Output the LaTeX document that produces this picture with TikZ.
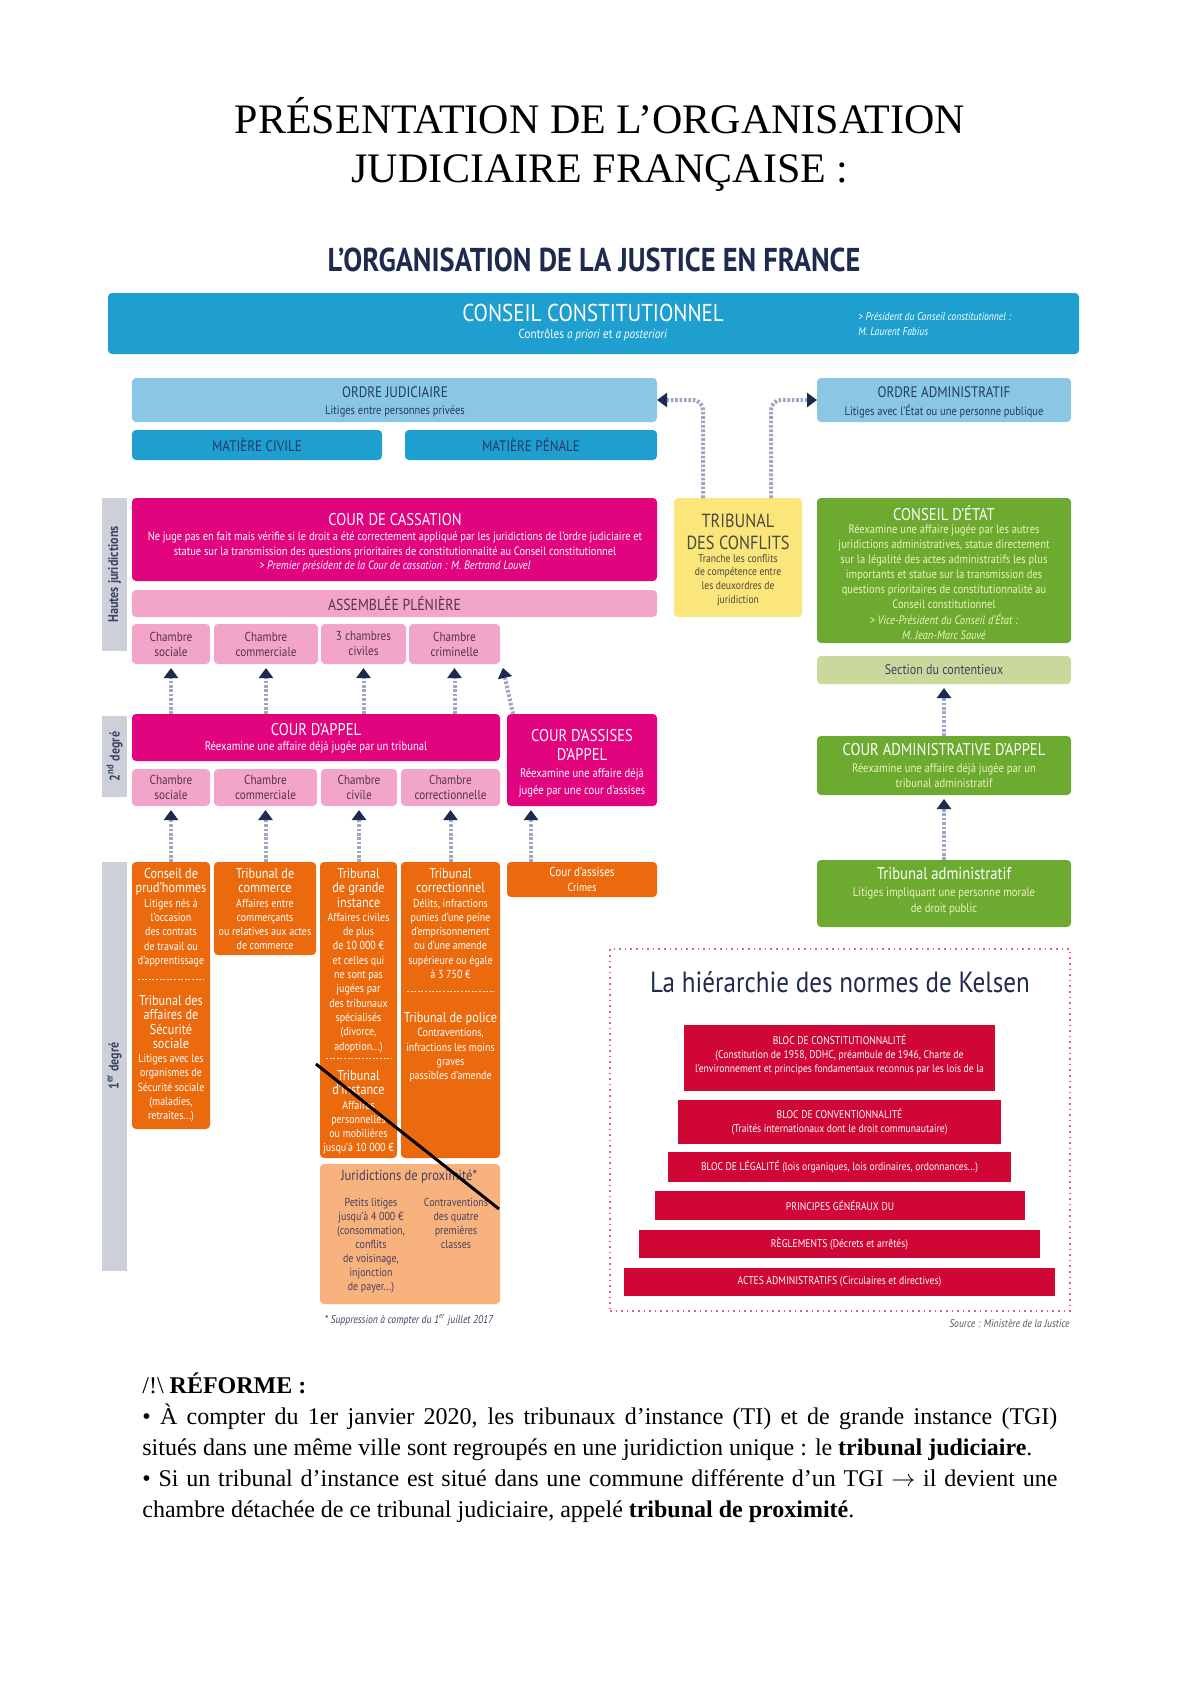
\documentclass[tikz,border=0pt]{standalone}
\usepackage{fontspec}
\setmainfont{Liberation Serif}
\newfontfamily\cf[FakeStretch=0.86]{PT Sans}
\usetikzlibrary{arrows.meta,fit,calc}
\definecolor{ccblue}{HTML}{1E9FCF}
\definecolor{lblue}{HTML}{89C7E4}
\definecolor{navy}{HTML}{1F2A4F}
\definecolor{navyt}{HTML}{243A68}
\definecolor{mag}{HTML}{E2047F}
\definecolor{pinkc}{HTML}{F2A5C8}
\definecolor{pinkt}{HTML}{5A2E4E}
\definecolor{orng}{HTML}{EC6A0E}
\definecolor{lorng}{HTML}{F7B27D}
\definecolor{lorngt}{HTML}{47405E}
\definecolor{yel}{HTML}{FBE67C}
\definecolor{yelt}{HTML}{4A4A3C}
\definecolor{grn}{HTML}{6DAA30}
\definecolor{pgrn}{HTML}{C9D99C}
\definecolor{paleg}{HTML}{EEF2C0}
\definecolor{crim}{HTML}{CF0636}
\definecolor{grayb}{HTML}{CDCFD9}
\definecolor{sidet}{HTML}{3B4466}
\definecolor{arrc}{HTML}{A3A4C4}
\definecolor{kred}{HTML}{E0607E}
\newcommand\otitle{\cf\fontsize{7.1}{7.15}\selectfont}
\newcommand\obody{\cf\fontsize{5.8}{7.15}\selectfont}
\newcommand\boxn[7]{%
  \pgfmathsetmacro\myBw{(#5-#3)*0.5}\pgfmathsetmacro\myBh{(#6-#4)*0.5}%
  \node[#2, minimum width=\myBw pt, minimum height=\myBh pt] (#1) at ({(#3+#5)/2},{(#4+#6)/2}) {#7};}
\begin{document}
\begin{tikzpicture}[x=0.5pt,y=-0.5pt,
  bx/.style={rectangle, rounded corners=2pt, inner sep=0pt, outer sep=0pt},
  sq/.style={rectangle, inner sep=0pt, outer sep=0pt},
  ttl/.style={font=\cf\fontsize{8.5}{9.5}\selectfont, text=white, inner sep=0pt},
  bdy/.style={font=\cf\fontsize{5.8}{7.25}\selectfont, text=white, align=center, inner sep=0pt},
  chb/.style={bx, fill=pinkc, text=pinkt, align=center, font=\cf\fontsize{6.5}{7.5}\selectfont},
  obx/.style={bx, fill=orng},
  otx/.style={font=\obody, text=white, align=center, inner sep=0pt, anchor=north},
  gbx/.style={bx, fill=grn},
  side/.style={sq, fill=grayb},
  sidetx/.style={rotate=90, text=sidet, font=\cf\bfseries\fontsize{7}{8}\selectfont, inner sep=0pt},
  lay/.style={sq, fill=crim, text=white, align=center, font=\cf\fontsize{5.6}{7}\selectfont},
  arr/.style={draw=arrc, line width=2pt, dash pattern=on 1.3pt off 0.9pt, -{Triangle[width=7pt,length=5pt,color=navy]}},
  sepl/.style={draw=white!80!orng, line width=0.5pt, dash pattern=on 1pt off 0.8pt}
]
\useasboundingbox[fill=white] (0,0) rectangle (1200,1696);

% titles
\node[font=\fontsize{21}{26}\selectfont] (title1) at (600,116) {PRÉSENTATION DE L’ORGANISATION};
\node[font=\fontsize{21}{26}\selectfont] (title2) at (600,173) {JUDICIAIRE FRANÇAISE :};
\node[font=\cf\bfseries\fontsize{16.5}{18}\selectfont, text=navy] (sub) at (594,260) {L’ORGANISATION DE LA JUSTICE EN FRANCE};

% Conseil constitutionnel
\node[bx, fill=ccblue, fit={(108,293)(1079,354)}] (cc) {};
\node[font=\cf\fontsize{12.2}{14}\selectfont, text=white, inner sep=0pt] (ccT) at (593,313) {CONSEIL CONSTITUTIONNEL};
\node[font=\cf\fontsize{6.5}{8}\selectfont, text=white, inner sep=0pt] (ccS) at (593,335) {Contrôles \textit{a priori} et \textit{a posteriori}};
\node[font=\cf\itshape\fontsize{5.6}{7.2}\selectfont, text=white, align=left, anchor=west, inner sep=0pt] (ccP) at (858,324) {> Président du Conseil constitutionnel :\\M. Laurent Fabius};

% ordres
\node[bx, fill=lblue, fit={(132,378)(657,422)}] (oj) {};
\node[font=\cf\fontsize{7.6}{9}\selectfont, text=navyt, inner sep=0pt] (ojT) at (395,392) {ORDRE JUDICIAIRE};
\node[font=\cf\fontsize{6.1}{8}\selectfont, text=navyt, inner sep=0pt] (ojS) at (395,411) {Litiges entre personnes privées};
\boxn{mc}{bx, fill=ccblue, text=navyt, font=\cf\fontsize{7.6}{9}\selectfont}{132}{430}{382}{460}{MATIÈRE CIVILE}
\boxn{mp}{bx, fill=ccblue, text=navyt, font=\cf\fontsize{7.6}{9}\selectfont}{405}{430}{657}{460}{MATIÈRE PÉNALE}
\node[bx, fill=lblue, fit={(817,378)(1071,422)}] (oa) {};
\node[font=\cf\fontsize{7.6}{9}\selectfont, text=navyt, inner sep=0pt] (oaT) at (944,392) {ORDRE ADMINISTRATIF};
\node[font=\cf\fontsize{6.1}{8}\selectfont, text=navyt, inner sep=0pt] (oaS) at (944,411) {Litiges avec l’État ou une personne publique};

% side bars
\node[side, fit={(102,498)(127,651)}] (hj) {};
\node[sidetx] (hjT) at (hj.center) {Hautes juridictions};
\node[side, fit={(102,716)(127,797)}] (d2) {};
\node[sidetx] (d2T) at (d2.center) {2\textsuperscript{nd} degré};
\node[side, fit={(102,862)(127,1271)}] (d1) {};
\node[sidetx] (d1T) at (114.5,1066) {1\textsuperscript{er} degré};

% Cour de cassation
\node[bx, fill=mag, fit={(132,498)(657,581)}] (cass) {};
\node[ttl] (cassT) at (395,520) {COUR DE CASSATION};
\node[bdy, font=\cf\fontsize{6.05}{7.25}\selectfont] (cassB) at (395,552) {Ne juge pas en fait mais vérifie si le droit a été correctement appliqué par les juridictions de l’ordre judiciaire et\\statue sur la transmission des questions prioritaires de constitutionnalité au Conseil constitutionnel\\\textit{> Premier président de la Cour de cassation : M. Bertrand Louvel}};
\boxn{ap}{bx, fill=pinkc, text=pinkt, font=\cf\fontsize{8}{9}\selectfont}{132}{590}{657}{617}{ASSEMBLÉE PLÉNIÈRE}
\boxn{cs1}{chb}{132}{624}{210}{664}{Chambre\\sociale}
\boxn{cs2}{chb}{214}{624}{318}{664}{Chambre\\commerciale}
\boxn{cs3}{chb}{321}{624}{406}{664}{3 chambres\\civiles}
\boxn{cs4}{chb}{409}{624}{500}{664}{Chambre\\criminelle}

% Cour d'appel
\node[bx, fill=mag, fit={(132,714)(500,761)}] (ca) {};
\node[ttl] (caT) at (316,730) {COUR D’APPEL};
\node[bdy, font=\cf\fontsize{6.2}{7.5}\selectfont] (caB) at (316,747) {Réexamine une affaire déjà jugée par un tribunal};
\boxn{ca1}{chb}{132}{769}{210}{806}{Chambre\\sociale}
\boxn{ca2}{chb}{214}{769}{317}{806}{Chambre\\commerciale}
\boxn{ca3}{chb}{321}{769}{397}{806}{Chambre\\civile}
\boxn{ca4}{chb}{401}{769}{500}{806}{Chambre\\correctionnelle}
\node[bx, fill=mag, fit={(507,714)(657,806)}] (cda) {};
\node[ttl, align=center] (cdaT) at (582,745) {COUR D’ASSISES\\D’APPEL};
\node[bdy, font=\cf\fontsize{6.2}{8.5}\selectfont] (cdaB) at (582,783) {Réexamine une affaire déjà\\jugée par une cour d’assises};

% first degree
\node[obx, fit={(132,862)(210,1129)}] (o1) {};
\node[obx, fit={(214,862)(316,955)}] (o2) {};
\node[obx, fit={(320,862)(397,1158)}] (o3) {};
\node[obx, fit={(401,862)(500,1158)}] (o4) {};
\node[obx, fit={(507,862)(657,897)}] (assises) {};
\node[otx, font=\cf\fontsize{6.5}{7.3}\selectfont] (assT) at (582,867) {\relax Cour d’assises\\\obody Crimes};
\node[otx] (o1a) at (171,868) {\relax\otitle Conseil de\\\otitle prud’hommes\\\obody Litiges nés à\\l’occasion\\des contrats\\de travail ou\\d’apprentissage};
\draw[sepl] (138,979) -- (204,979);
\node[otx] (o1b) at (171,995) {\relax\otitle Tribunal des\\\otitle affaires de\\\otitle Sécurité\\\otitle sociale\\\obody Litiges avec les\\organismes de\\Sécurité sociale\\(maladies,\\retraites...)};
\node[otx] (o2a) at (265,868) {\relax\otitle Tribunal de\\\otitle commerce\\\obody Affaires entre\\commerçants\\ou relatives aux actes\\de commerce};
\node[otx] (o3a) at (358.5,868) {\relax\otitle Tribunal\\\otitle de grande\\\otitle instance\\\obody Affaires civiles\\de plus\\de 10 000 €\\et celles qui\\ne sont pas\\jugées par\\des tribunaux\\spécialisés\\(divorce,\\adoption...)};
\draw[sepl] (326,1058) -- (391,1058);
\node[otx] (o3b) at (358.5,1070) {\relax\otitle Tribunal\\\otitle d’instance\\\obody Affaires\\personnelles\\ou mobilières\\jusqu’à 10 000 €};
\node[otx] (o4a) at (450.5,868) {\relax\otitle Tribunal\\\otitle correctionnel\\\obody Délits, infractions\\punies d’une peine\\d’emprisonnement\\ou d’une amende\\supérieure ou égale\\à 3 750 €};
\draw[sepl] (407,991) -- (494,991);
\node[otx] (o4b) at (450.5,1012) {\relax\otitle Tribunal de police\\\obody Contraventions,\\infractions les moins\\graves\\passibles d’amende};

% juridictions de proximite
\node[bx, fill=lorng, fit={(320,1164)(500,1304)}] (jp) {};
\node[font=\cf\fontsize{7.3}{8}\selectfont, text=lorngt, inner sep=0pt] (jpT) at (409,1177) {Juridictions de proximité*};
\node[otx, text=lorngt, font=\cf\fontsize{5.8}{7}\selectfont] (jpL) at (371,1198) {Petits litiges\\jusqu’à 4 000 €\\(consommation,\\conflits\\de voisinage,\\injonction\\de payer...)};
\node[otx, text=lorngt, font=\cf\fontsize{5.8}{7}\selectfont] (jpR) at (456,1198) {Contraventions\\des quatre\\premières\\classes};
\node[font=\cf\itshape\fontsize{5.6}{7}\selectfont, text=lorngt, inner sep=0pt] (foot) at (409,1320) {* Suppression à compter du 1\textsuperscript{er} juillet 2017};

% strike line
\coordinate (s1) at (316,1064);
\coordinate (s2) at (499,1209);
\draw[line width=1.5pt, black] (s1) -- (s2);

% Tribunal des conflits
\node[bx, fill=yel, fit={(674,498)(802,617)}] (tc) {};
\node[font=\cf\fontsize{9.5}{11}\selectfont, text=yelt, align=center, inner sep=0pt] (tcT) at (738,532) {TRIBUNAL\\DES CONFLITS};
\node[font=\cf\fontsize{5.6}{6.85}\selectfont, text=yelt, align=center, inner sep=0pt] (tcB) at (738,580) {Tranche les conflits\\de compétence entre\\les deuxordres de\\juridiction};

% administratif
\node[gbx, fit={(817,498)(1071,643)}] (ce) {};
\node[ttl] (ceT) at (944,513) {CONSEIL D’ÉTAT};
\node[bdy, text=paleg, font=\cf\fontsize{6.1}{7.55}\selectfont] (ceB) at (944,582) {Réexamine une affaire jugée par les autres\\juridictions administratives, statue directement\\sur la légalité des actes administratifs les plus\\importants et statue sur la transmission des\\questions prioritaires de constitutionnalité au\\Conseil constitutionnel\\\textit{> Vice-Président du Conseil d’État :}\\\textit{M. Jean-Marc Sauvé}};
\boxn{sec}{bx, fill=pgrn, text=sidet, font=\cf\fontsize{7}{8}\selectfont}{817}{656}{1071}{684}{Section du contentieux}
\node[gbx, fit={(817,736)(1071,795)}] (caa) {};
\node[ttl] (caaT) at (944,750) {COUR ADMINISTRATIVE D’APPEL};
\node[bdy, text=paleg, font=\cf\fontsize{6.2}{7.5}\selectfont] (caaB) at (944,776) {Réexamine une affaire déjà jugée par un\\tribunal administratif};
\node[gbx, fit={(817,860)(1071,927)}] (ta) {};
\node[ttl] (taT) at (944,874) {Tribunal administratif};
\node[bdy, text=paleg, font=\cf\fontsize{6.2}{7.9}\selectfont] (taB) at (944,901) {Litiges impliquant une personne morale\\de droit public};

% arrows
\draw[arr, rounded corners=5pt] ([xshift=14.5pt]tc.north west) |- (oj.east);
\draw[arr, rounded corners=5pt] ([xshift=-15.5pt]tc.north east) |- (oa.west);
\foreach \c in {cs1,cs2,cs3,cs4} \draw[arr, shorten >=2pt] (\c.south |- ca.north) -- (\c.south);
\draw[arr, shorten >=2pt] ([xshift=3pt]cda.north west) -- ([xshift=1pt]cs4.south east);
\draw[arr, shorten >=2pt] (ca1.south |- o1.north) -- (ca1.south);
\draw[arr, shorten >=2pt] (ca2.south |- o2.north) -- (ca2.south);
\draw[arr, shorten >=2pt] (ca3.south |- o3.north) -- (ca3.south);
\draw[arr, shorten >=2pt] (ca4.south |- o4.north) -- (ca4.south);
\draw[arr, shorten >=2pt] ([xshift=12pt]assises.north west) -- ([xshift=12pt]cda.south west);
\draw[arr, shorten >=2pt] (caa.north) -- (sec.south);
\draw[arr, shorten >=2pt] (ta.north) -- (caa.south);

% Kelsen
\node[sq, draw=kred, dotted, line width=0.8pt, fit={(610,949)(1070,1311)}] (kel) {};
\node[font=\cf\fontsize{14.6}{16}\selectfont, text=navy, inner sep=0pt] (kelT) at (840,982) {La hiérarchie des normes de Kelsen};
\node[lay, fit={(684,1025)(995,1091)}] (l1) {};
\node[lay, inner sep=0pt] (l1T) at (839.5,1055) {BLOC DE CONSTITUTIONNALITÉ\\(Constitution de 1958, DDHC, préambule de 1946, Charte de\\l’environnement et principes fondamentaux reconnus par les lois de la};
\boxn{l2}{lay}{678}{1100}{1001}{1144}{BLOC DE CONVENTIONNALITÉ\\(Traités internationaux dont le droit communautaire)}
\boxn{l3}{lay}{668}{1152}{1011}{1182}{BLOC DE LÉGALITÉ (lois organiques, lois ordinaires, ordonnances...)}
\boxn{l4}{lay}{655}{1191}{1025}{1220}{PRINCIPES GÉNÉRAUX DU}
\boxn{l5}{lay}{639}{1230}{1040}{1258}{RÈGLEMENTS (Décrets et arrêtés)}
\boxn{l6}{lay}{624}{1268}{1055}{1296}{ACTES ADMINISTRATIFS (Circulaires et directives)}
\node[font=\cf\itshape\fontsize{5.6}{7}\selectfont, text=black!65, anchor=east, inner sep=0pt] (src) at (1070,1324) {Source : Ministère de la Justice};

% reform text
\node[anchor=north west, inner sep=0pt, text width=457.5pt, align=justify, font=\fontsize{12}{15.5}\selectfont] (ref) at (142,1372) {\relax /!\textbackslash{} \textbf{RÉFORME :}\\ • À compter du 1er janvier 2020, les tribunaux d'instance (TI) et de grande instance (TGI)\linebreak situés dans une même ville sont regroupés en une juridiction unique : le \textbf{tribunal judiciaire}.\\ • Si un tribunal d'instance est situé dans une commune différente d'un TGI $\rightarrow$ il devient une\linebreak chambre détachée de ce tribunal judiciaire, appelé \textbf{tribunal de proximité}.};
\end{tikzpicture}
\end{document}
